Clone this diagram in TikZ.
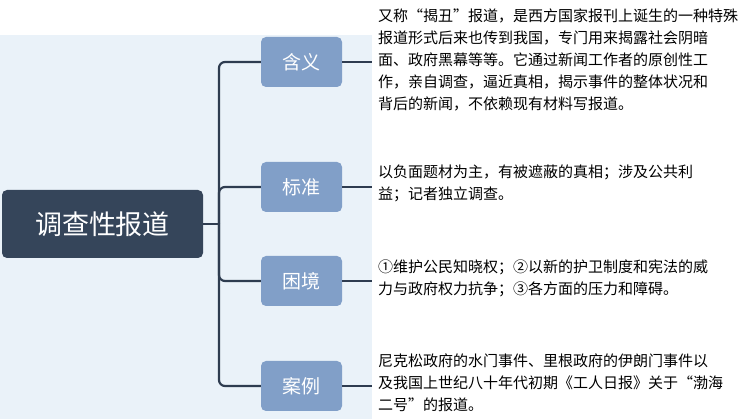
\documentclass[tikz,border=0pt]{standalone}
\usepackage{fontspec}
\setmainfont{Noto Sans CJK SC}
\usetikzlibrary{positioning}
\definecolor{rootfill}{HTML}{35455A}
\definecolor{branchfill}{HTML}{819FC8}
\definecolor{bgfill}{HTML}{EAF2F9}
\definecolor{linecol}{HTML}{2E3C50}
\tikzset{
  root/.style = {rectangle, rounded corners=5pt, fill=rootfill, text=white, minimum width=201pt, minimum height=68pt, font=\fontsize{27}{30}\selectfont},
  branch/.style = {rectangle, rounded corners=5pt, fill=branchfill, text=white, minimum width=81pt, minimum height=50pt, font=\fontsize{19}{22}\selectfont},
  note/.style = {anchor=north west, align=left, inner sep=0pt, font=\fontsize{15}{22}\selectfont},
  link/.style = {draw=linecol, line width=2.2pt, rounded corners=6pt}
}
\begin{document}
\begin{tikzpicture}[x=1pt, y=-1pt]
\useasboundingbox (0,0) rectangle (748,419);
\fill[bgfill] (0,35) rectangle (372,419);
\node (report) [root] at (102.5,224) {调查性报道};
\node (meaning) [branch] at (301.5,62) {含义};
\node (standard) [branch] at (301.5,187) {标准};
\node (dilemma) [branch] at (301.5,281) {困境};
\node (cases) [branch] at (301.5,386) {案例};
\coordinate (fork) at (219,224);
% trunk and branches
\draw[link] (report.east) -- (fork);
\draw[link] (fork) |- (meaning.west);
\draw[link] (fork) |- (standard.west);
\draw[link] (fork) |- (dilemma.west);
\draw[link] (fork) |- (cases.west);
\coordinate (meaningend) at (372,62);
\coordinate (standardend) at (372,187);
\coordinate (dilemmaend) at (372,281);
\coordinate (casesend) at (372,386);
\draw[link] (meaning.east) -- (meaningend);
\draw[link] (standard.east) -- (standardend);
\draw[link] (dilemma.east) -- (dilemmaend);
\draw[link] (cases.east) -- (casesend);
% notes
\node (meaningtext) [note] at (378,9) {又称“揭丑”报道，是西方国家报刊上诞生的一种特殊\\报道形式后来也传到我国，专门用来揭露社会阴暗\\面、政府黑幕等等。它通过新闻工作者的原创性工\\作，亲自调查，逼近真相，揭示事件的整体状况和\\背后的新闻，不依赖现有材料写报道。};
\node (standardtext) [note] at (378,165) {以负面题材为主，有被遮蔽的真相；涉及公共利\\益；记者独立调查。};
\node (dilemmatext) [note] at (378,260) {①维护公民知晓权；②以新的护卫制度和宪法的威\\力与政府权力抗争；③各方面的压力和障碍。};
\node (casestext) [note] at (378,354) {尼克松政府的水门事件、里根政府的伊朗门事件以\\及我国上世纪八十年代初期《工人日报》关于“渤海\\二号”的报道。};
\end{tikzpicture}
\end{document}
